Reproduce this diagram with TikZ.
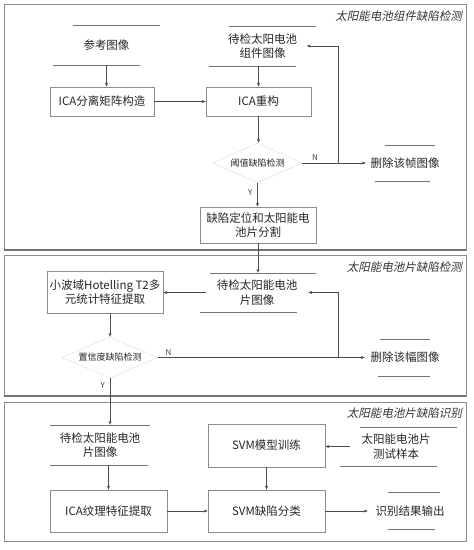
\documentclass[tikz,border=0pt]{standalone}
\usepackage{fontspec}
\setmainfont{Noto Sans CJK SC}
\newfontfamily\titlefont[FakeSlant=0.22]{Noto Sans CJK SC}
\usetikzlibrary{shapes.geometric,arrows.meta}
\newcommand\dlines[6]{%
  \draw[dline] ([shift={(#3,-#2)}]#1.center) -- ([shift={(#4,-#2)}]#1.center);
  \draw[dline] ([shift={(#5,#2)}]#1.center) -- ([shift={(#6,#2)}]#1.center);}
\begin{document}
\begin{tikzpicture}[x=1pt,y=-1pt,
  every node/.style={text=black!85, font=\fontsize{11.5}{14.5}\selectfont, inner sep=0pt, align=center},
  box/.style={draw=black!45, line width=0.6pt, fill=white},
  data/.style={},
  dline/.style={draw=black!55, line width=0.6pt},
  dia/.style={diamond, aspect=2.2, draw=black!25, dash pattern=on 0.8pt off 0.8pt, font=\fontsize{9}{10}\selectfont},
  panel/.style={draw=black!45, line width=0.6pt},
  panelb/.style={draw=black!55, line width=1.3pt},
  title/.style={font=\titlefont\fontsize{11.5}{13}\selectfont, anchor=east, text=black!80},
  lab/.style={font=\fontsize{8}{9}\selectfont, text=black!75},
  arr/.style={draw=black!70, line width=0.5pt, -{Stealth[length=4pt,width=3pt]}}]
\useasboundingbox (0,0) rectangle (474,550);
% panels
\draw[panel] (4,4) rectangle (466,250);
\draw[panelb] (4,250) -- (466,250);
\draw[panel] (4,255) rectangle (466,396);
\draw[panelb] (4,396) -- (466,396);
\draw[panel] (4,402) rectangle (466,541);
\node[title] (t1) at (462,16) {太阳能电池组件缺陷检测};
\node[title] (t2) at (462,267) {太阳能电池片缺陷检测};
\node[title] (t3) at (462,413) {太阳能电池片缺陷识别};
% panel 1
\node[data, minimum width=87, minimum height=40] (ref) at (106.5,45) {参考图像};
\dlines{ref}{20}{-33.5}{53.5}{-53.5}{33.5}
\node[data, minimum width=88, minimum height=40] (tst1) at (262.5,46) {待检太阳电池\\组件图像};
\dlines{tst1}{20}{-33.5}{53.5}{-53.5}{33.5}
\node[box, minimum width=104, minimum height=29] (ica1) at (102,101.5) {ICA分离矩阵构造};
\node[box, minimum width=105, minimum height=29] (ica2) at (258.5,101.5) {ICA重构};
\node[dia, minimum width=89, minimum height=40] (d1) at (257.5,163) {阈值缺陷检测};
\node[data, minimum width=78, minimum height=36] (del1) at (405,163) {删除该帧图像};
\dlines{del1}{18}{-20}{30}{-30}{25}
\node[box, minimum width=116, minimum height=36] (seg1) at (258,225) {缺陷定位和太阳能电\\池片分割};
% panel 2
\node[data, minimum width=102, minimum height=39] (tst2) at (257,292.5) {待检太阳能电池\\片图像};
\dlines{tst2}{19.5}{-47}{59}{-57}{40}
\node[box, minimum width=116, minimum height=42] (hot) at (105,292) {小波域Hotelling T2多\\元统计特征提取};
\node[dia, minimum width=96, minimum height=41] (d2) at (110,357.5) {置信度缺陷检测};
\node[data, minimum width=80, minimum height=37] (del2) at (405,357.5) {删除该幅图像};
\dlines{del2}{18.5}{-25}{25}{-27}{25}
% panel 3
\node[data, minimum width=100, minimum height=40] (tst3) at (100,445) {待检太阳能电池\\片图像};
\dlines{tst3}{20}{-50}{50}{-50}{48}
\node[box, minimum width=117, minimum height=43] (svmt) at (266.5,445.5) {SVM模型训练};
\node[data, minimum width=92, minimum height=39] (smp) at (396,446.5) {太阳能电池片\\测试样本};
\dlines{smp}{19.5}{-36}{61}{-56}{41}
\node[box, minimum width=117, minimum height=42] (ica3) at (108.5,511) {ICA纹理特征提取};
\node[box, minimum width=117, minimum height=42] (svmc) at (266.5,511) {SVM缺陷分类};
\node[data, minimum width=84, minimum height=37] (out) at (410,511) {识别结果输出};
\dlines{out}{18.5}{-22}{30}{-22}{25}
% connectors panel 1
\draw[arr] (ref.south) -- (ref.south |- ica1.north);
\draw[arr] (ica1) -- (ica2);
\draw[arr] (tst1.south -| ica2.north) -- (ica2.north);
\draw[arr] (ica2.south) -- (ica2.south |- d1.north);
\coordinate (j1) at (338,163);
\draw[arr] (d1.east) -- node[lab, pos=0.2, above=2pt] {N} (del1.west);
\draw[arr] (j1) |- (tst1.east);
\draw[arr] (d1.south) -- node[lab, pos=0.4, left=5pt] {Y} (d1.south |- seg1.north);
\draw[arr] (seg1.south) -- (seg1.south |- tst2.north);
% connectors panel 2
\draw[arr] (tst2.west) -- (tst2.west -| hot.east);
\draw[arr] (hot.south -| d2.north) -- (d2.north);
\coordinate (j2) at (338,357.5);
\draw[arr] (d2.east) -- node[lab, pos=0.05, above=2pt] {N} (del2.west);
\draw[arr] (j2) |- (tst2.east);
\draw[arr] (d2.south) -- node[lab, pos=0.15, left=5pt] {Y} (d2.south |- tst3.north);
% connectors panel 3
\draw[arr] (ica3.north |- tst3.south) -- (ica3.north);
\draw[arr] (smp.west) -- (smp.west -| svmt.east);
\draw[arr] (svmt) -- (svmc);
\draw[arr] (ica3) -- (svmc);
\draw[arr] (svmc.east) -- (svmc.east -| out.west);
\end{tikzpicture}
\end{document}
